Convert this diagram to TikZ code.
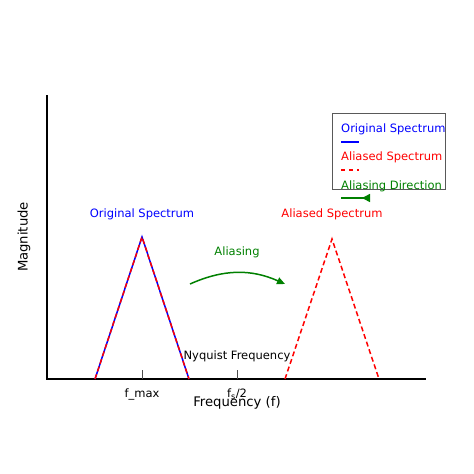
\documentclass[tikz,border=0pt]{standalone}
\usepackage{fontspec}
\setmainfont{DejaVu Sans}
\usepackage{xcolor}
\usepackage{tikz}
\usetikzlibrary{arrows.meta,positioning}

\definecolor{aliasgreen}{RGB}{0,128,0}

\begin{document}
\begin{tikzpicture}[x=1pt, y=-1pt, >=Stealth,
    lbl/.style={font=\fontsize{11.5}{13}\selectfont, inner sep=0pt},
    axlbl/.style={font=\fontsize{13.2}{15}\selectfont, inner sep=0pt},
    axisline/.style={line width=1.4pt, black},
    origline/.style={line width=1.5pt, blue},
    aliasline/.style={line width=1.5pt, red, dash pattern=on 5pt off 3pt},
    dirline/.style={line width=1.5pt, aliasgreen}]
    \useasboundingbox (0,0) rectangle (474,474);
    % axes
    \coordinate (top) at (47,95);
    \coordinate (origin) at (47,379);
    \coordinate (xend) at (426,379);
    \draw[axisline] (top) -- (origin) -- (xend);
    % ticks
    \coordinate (fmax) at (142,379);
    \coordinate (fhalf) at (237,379);
    \coordinate (fmaxtop) at (142,370);
    \coordinate (fhalftop) at (237,370);
    \draw[line width=0.7pt, black!70] (fmax) -- (fmaxtop);
    \draw[line width=0.7pt, black!70] (fhalf) -- (fhalftop);
    \node[lbl] (fmaxlbl) at (142,394) {f\_max};
    \node[lbl] (fhalflbl) at (237,394) {f\textsubscript{s}/2};
    \node[axlbl] (xlbl) at (237,403) {Frequency (f)};
    \node[axlbl, rotate=90] (ylbl) at (24,237) {Magnitude};
    % original spectrum
    \coordinate (oleft) at (95,379);
    \coordinate (opeak) at (142,237);
    \coordinate (oright) at (189,379);
    \draw[origline] (oleft) -- (opeak) -- (oright);
    \draw[aliasline] (oleft) -- (opeak) -- (oright);
    % aliased spectrum
    \coordinate (aleft) at (285,379);
    \coordinate (apeak) at (332,239);
    \coordinate (aright) at (379,379);
    \draw[aliasline] (aleft) -- (apeak) -- (aright);
    % labels
    \node[lbl, text=blue] (origlbl) at (142,214) {Original Spectrum};
    \node[lbl, text=red] (aliaslbl) at (332,214) {Aliased Spectrum};
    \node[lbl, text=aliasgreen] (dirlbl) at (237,252) {Aliasing};
    \node[lbl] (nyqlbl) at (237,356) {Nyquist Frequency};
    % aliasing arrow
    \coordinate (arcstart) at (190,284);
    \coordinate (arcend) at (285,284);
    \draw[dirline, -{Triangle[length=8pt,width=7pt]}, bend left=24] (arcstart) to (arcend);
    % legend
    \coordinate (legnw) at (332,113);
    \coordinate (legse) at (445,189);
    \draw[line width=0.8pt, black!65] (legnw) rectangle (legse);
    \node[lbl, text=blue, anchor=west] (leg1) at (341,129) {Original Spectrum};
    \node[lbl, text=red, anchor=west] (leg2) at (341,157) {Aliased Spectrum};
    \node[lbl, text=aliasgreen, anchor=west] (leg3) at (341,186) {Aliasing Direction};
    \coordinate (l1a) at (341,142);
    \coordinate (l1b) at (359,142);
    \coordinate (l2a) at (341,170);
    \coordinate (l2b) at (359,170);
    \coordinate (l3a) at (341,198);
    \coordinate (l3b) at (370,198);
    \draw[origline] (l1a) -- (l1b);
    \draw[aliasline, dash pattern=on 4pt off 4pt] (l2a) -- (l2b);
    \draw[dirline, -{Triangle[reversed,length=8pt,width=8pt]}] (l3a) -- (l3b);
\end{tikzpicture}
\end{document}
